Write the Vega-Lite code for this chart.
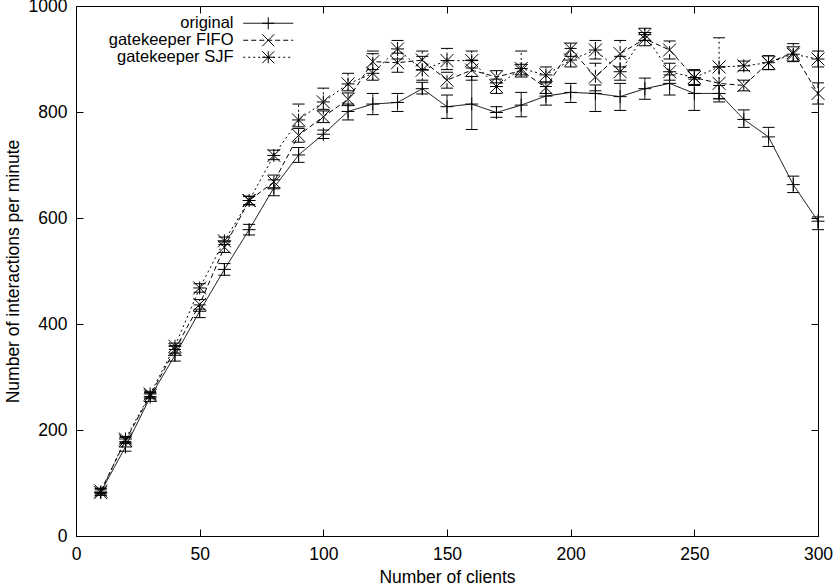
{
  "$schema": "https://vega.github.io/schema/vega-lite/v6.json",
  "width": 742,
  "height": 530,
  "autosize": {"type": "none"},
  "padding": {"left": 76, "top": 6, "right": 19, "bottom": 49},
  "background": "white",
  "data": {
    "values": [
      {"clients": 10, "series": "original", "y": 83, "lo": 77, "hi": 90},
      {"clients": 20, "series": "original", "y": 168, "lo": 160, "hi": 176},
      {"clients": 30, "series": "original", "y": 262, "lo": 254, "hi": 270},
      {"clients": 40, "series": "original", "y": 341, "lo": 330, "hi": 352},
      {"clients": 50, "series": "original", "y": 424, "lo": 412, "hi": 436},
      {"clients": 60, "series": "original", "y": 503, "lo": 492, "hi": 514},
      {"clients": 70, "series": "original", "y": 578, "lo": 568, "hi": 588},
      {"clients": 80, "series": "original", "y": 657, "lo": 642, "hi": 672},
      {"clients": 90, "series": "original", "y": 719, "lo": 705, "hi": 733},
      {"clients": 100, "series": "original", "y": 758, "lo": 750, "hi": 766},
      {"clients": 110, "series": "original", "y": 801, "lo": 785, "hi": 815},
      {"clients": 120, "series": "original", "y": 815, "lo": 795, "hi": 835},
      {"clients": 130, "series": "original", "y": 818, "lo": 801, "hi": 835},
      {"clients": 140, "series": "original", "y": 844, "lo": 834, "hi": 856},
      {"clients": 150, "series": "original", "y": 810, "lo": 788, "hi": 832},
      {"clients": 160, "series": "original", "y": 815, "lo": 767, "hi": 867},
      {"clients": 170, "series": "original", "y": 799, "lo": 790, "hi": 810},
      {"clients": 180, "series": "original", "y": 813, "lo": 791, "hi": 837},
      {"clients": 190, "series": "original", "y": 830, "lo": 813, "hi": 848},
      {"clients": 200, "series": "original", "y": 837, "lo": 818, "hi": 854},
      {"clients": 210, "series": "original", "y": 835, "lo": 801, "hi": 851},
      {"clients": 220, "series": "original", "y": 829, "lo": 803, "hi": 854},
      {"clients": 230, "series": "original", "y": 844, "lo": 824, "hi": 864},
      {"clients": 240, "series": "original", "y": 854, "lo": 832, "hi": 870},
      {"clients": 250, "series": "original", "y": 835, "lo": 803, "hi": 862},
      {"clients": 260, "series": "original", "y": 835, "lo": 819, "hi": 850},
      {"clients": 270, "series": "original", "y": 786, "lo": 771, "hi": 804},
      {"clients": 280, "series": "original", "y": 753, "lo": 735, "hi": 771},
      {"clients": 290, "series": "original", "y": 663, "lo": 648, "hi": 679},
      {"clients": 300, "series": "original", "y": 594, "lo": 578, "hi": 602},
      {"clients": 10, "series": "gatekeeper FIFO", "y": 85, "lo": 80, "hi": 90},
      {"clients": 20, "series": "gatekeeper FIFO", "y": 180, "lo": 175, "hi": 186},
      {"clients": 30, "series": "gatekeeper FIFO", "y": 265, "lo": 259, "hi": 271},
      {"clients": 40, "series": "gatekeeper FIFO", "y": 352, "lo": 345, "hi": 359},
      {"clients": 50, "series": "gatekeeper FIFO", "y": 437, "lo": 428, "hi": 446},
      {"clients": 60, "series": "gatekeeper FIFO", "y": 545, "lo": 535, "hi": 555},
      {"clients": 70, "series": "gatekeeper FIFO", "y": 633, "lo": 625, "hi": 641},
      {"clients": 80, "series": "gatekeeper FIFO", "y": 668, "lo": 655, "hi": 681},
      {"clients": 90, "series": "gatekeeper FIFO", "y": 756, "lo": 743, "hi": 769},
      {"clients": 100, "series": "gatekeeper FIFO", "y": 791, "lo": 780, "hi": 802},
      {"clients": 110, "series": "gatekeeper FIFO", "y": 824, "lo": 812, "hi": 836},
      {"clients": 120, "series": "gatekeeper FIFO", "y": 895, "lo": 880, "hi": 910},
      {"clients": 130, "series": "gatekeeper FIFO", "y": 893, "lo": 875, "hi": 911},
      {"clients": 140, "series": "gatekeeper FIFO", "y": 898, "lo": 880, "hi": 915},
      {"clients": 150, "series": "gatekeeper FIFO", "y": 860, "lo": 845, "hi": 875},
      {"clients": 160, "series": "gatekeeper FIFO", "y": 879, "lo": 860, "hi": 898},
      {"clients": 170, "series": "gatekeeper FIFO", "y": 866, "lo": 855, "hi": 878},
      {"clients": 180, "series": "gatekeeper FIFO", "y": 878, "lo": 866, "hi": 890},
      {"clients": 190, "series": "gatekeeper FIFO", "y": 846, "lo": 835, "hi": 857},
      {"clients": 200, "series": "gatekeeper FIFO", "y": 919, "lo": 905, "hi": 930},
      {"clients": 210, "series": "gatekeeper FIFO", "y": 866, "lo": 840, "hi": 892},
      {"clients": 220, "series": "gatekeeper FIFO", "y": 910, "lo": 885, "hi": 935},
      {"clients": 230, "series": "gatekeeper FIFO", "y": 938, "lo": 925, "hi": 950},
      {"clients": 240, "series": "gatekeeper FIFO", "y": 917, "lo": 900, "hi": 934},
      {"clients": 250, "series": "gatekeeper FIFO", "y": 865, "lo": 852, "hi": 878},
      {"clients": 260, "series": "gatekeeper FIFO", "y": 854, "lo": 825, "hi": 885},
      {"clients": 270, "series": "gatekeeper FIFO", "y": 850, "lo": 840, "hi": 860},
      {"clients": 280, "series": "gatekeeper FIFO", "y": 893, "lo": 880, "hi": 906},
      {"clients": 290, "series": "gatekeeper FIFO", "y": 912, "lo": 895, "hi": 929},
      {"clients": 300, "series": "gatekeeper FIFO", "y": 835, "lo": 815, "hi": 855},
      {"clients": 10, "series": "gatekeeper SJF", "y": 82, "lo": 77, "hi": 87},
      {"clients": 20, "series": "gatekeeper SJF", "y": 183, "lo": 178, "hi": 188},
      {"clients": 30, "series": "gatekeeper SJF", "y": 268, "lo": 263, "hi": 273},
      {"clients": 40, "series": "gatekeeper SJF", "y": 358, "lo": 352, "hi": 364},
      {"clients": 50, "series": "gatekeeper SJF", "y": 468, "lo": 460, "hi": 476},
      {"clients": 60, "series": "gatekeeper SJF", "y": 557, "lo": 550, "hi": 564},
      {"clients": 70, "series": "gatekeeper SJF", "y": 633, "lo": 625, "hi": 641},
      {"clients": 80, "series": "gatekeeper SJF", "y": 718, "lo": 710, "hi": 728},
      {"clients": 90, "series": "gatekeeper SJF", "y": 785, "lo": 772, "hi": 815},
      {"clients": 100, "series": "gatekeeper SJF", "y": 819, "lo": 805, "hi": 845},
      {"clients": 110, "series": "gatekeeper SJF", "y": 853, "lo": 840, "hi": 873},
      {"clients": 120, "series": "gatekeeper SJF", "y": 873, "lo": 860, "hi": 915},
      {"clients": 130, "series": "gatekeeper SJF", "y": 919, "lo": 900, "hi": 935},
      {"clients": 140, "series": "gatekeeper SJF", "y": 879, "lo": 860, "hi": 905},
      {"clients": 150, "series": "gatekeeper SJF", "y": 897, "lo": 880, "hi": 920},
      {"clients": 160, "series": "gatekeeper SJF", "y": 897, "lo": 883, "hi": 915},
      {"clients": 170, "series": "gatekeeper SJF", "y": 848, "lo": 835, "hi": 862},
      {"clients": 180, "series": "gatekeeper SJF", "y": 882, "lo": 870, "hi": 915},
      {"clients": 190, "series": "gatekeeper SJF", "y": 870, "lo": 855, "hi": 885},
      {"clients": 200, "series": "gatekeeper SJF", "y": 898, "lo": 885, "hi": 920},
      {"clients": 210, "series": "gatekeeper SJF", "y": 917, "lo": 900, "hi": 935},
      {"clients": 220, "series": "gatekeeper SJF", "y": 876, "lo": 860, "hi": 905},
      {"clients": 230, "series": "gatekeeper SJF", "y": 946, "lo": 935, "hi": 958},
      {"clients": 240, "series": "gatekeeper SJF", "y": 876, "lo": 860, "hi": 892},
      {"clients": 250, "series": "gatekeeper SJF", "y": 865, "lo": 850, "hi": 880},
      {"clients": 260, "series": "gatekeeper SJF", "y": 885, "lo": 825, "hi": 940},
      {"clients": 270, "series": "gatekeeper SJF", "y": 887, "lo": 878, "hi": 896},
      {"clients": 280, "series": "gatekeeper SJF", "y": 893, "lo": 880, "hi": 906},
      {"clients": 290, "series": "gatekeeper SJF", "y": 909, "lo": 896, "hi": 923},
      {"clients": 300, "series": "gatekeeper SJF", "y": 900, "lo": 885, "hi": 915}
    ]
  },
  "layer": [
    {
      "layer": [
        {
          "mark": {"type": "rule", "color": "black", "strokeWidth": 1},
          "encoding": {
            "x": {"field": "clients", "type": "quantitative", "scale": {"domain": [0, 300], "nice": false},
                  "axis": {"values": [0, 50, 100, 150, 200, 250, 300], "format": "d", "title": "Number of clients",
                           "titleY": 41, "titleBaseline": "middle"}},
            "y": {"field": "lo", "type": "quantitative", "scale": {"domain": [0, 1000], "nice": false},
                  "axis": {"values": [0, 200, 400, 600, 800, 1000], "format": "d", "title": "Number of interactions per minute",
                           "titleX": -63, "titleBaseline": "middle"}},
            "y2": {"field": "hi"},
            "strokeDash": {
              "field": "series", "type": "nominal",
              "scale": {"domain": ["original", "gatekeeper FIFO", "gatekeeper SJF"], "range": [[1, 0], [5, 3], [2, 3]]},
              "legend": {
                "orient": "none", "legendX": 145, "legendY": 9, "title": null, "padding": 0,
                "symbolType": "M-4.17,0L4.17,0", "symbolSize": 144, "symbolStrokeColor": "black", "symbolStrokeWidth": 1,
                "labelAlign": "right", "labelOffset": -43, "symbolOffset": 39, "rowPadding": -1
              }
            }
          }
        },
        {
          "mark": {"type": "point", "shape": "M-1,0L1,0", "size": 144, "filled": false, "color": "black", "strokeWidth": 1, "opacity": 1},
          "encoding": {
            "x": {"field": "clients", "type": "quantitative"},
            "y": {"field": "lo", "type": "quantitative"}
          }
        },
        {
          "mark": {"type": "point", "shape": "M-1,0L1,0", "size": 144, "filled": false, "color": "black", "strokeWidth": 1, "opacity": 1},
          "encoding": {
            "x": {"field": "clients", "type": "quantitative"},
            "y": {"field": "hi", "type": "quantitative"}
          }
        },
        {
          "mark": {"type": "line", "color": "black", "strokeWidth": 1},
          "encoding": {
            "x": {"field": "clients", "type": "quantitative"},
            "y": {"field": "y", "type": "quantitative"},
            "strokeDash": {"field": "series", "type": "nominal"}
          }
        },
        {
          "mark": {"type": "point", "filled": false, "color": "black", "strokeWidth": 1, "size": 169, "opacity": 1},
          "encoding": {
            "x": {"field": "clients", "type": "quantitative"},
            "y": {"field": "y", "type": "quantitative"},
            "shape": {
              "field": "series", "type": "nominal",
              "sort": ["original", "gatekeeper FIFO", "gatekeeper SJF"],
              "scale": {"range": ["M0,-1L0,1M-1,0L1,0", "M-1,-1L1,1M-1,1L1,-1", "M-1,-1L1,1M-1,1L1,-1M0,-1L0,1M-1,0L1,0"]},
              "legend": {
                "orient": "none", "legendX": 145, "legendY": 9, "title": null, "padding": 0,
                "symbolSize": 144, "symbolStrokeColor": "black", "symbolStrokeWidth": 1, "symbolFillColor": "transparent",
                "labelAlign": "right", "labelOffset": -43, "symbolOffset": 39, "rowPadding": -1, "labelExpr": "' '"
              }
            }
          }
        }
      ]
    },
    {
      "mark": {"type": "point", "opacity": 0},
      "encoding": {
        "x": {"field": "clients", "type": "quantitative",
              "axis": {"orient": "top", "values": [0, 50, 100, 150, 200, 250, 300], "labels": false, "title": null}},
        "y": {"field": "y", "type": "quantitative",
              "axis": {"orient": "right", "values": [0, 200, 400, 600, 800, 1000], "labels": false, "title": null}}
      }
    }
  ],
  "resolve": {"axis": {"x": "independent", "y": "independent"}},
  "config": {
    "view": {"stroke": "black", "strokeWidth": 1},
    "axis": {
      "labelFont": "Liberation Sans", "titleFont": "Liberation Sans",
      "labelFontSize": 17.5, "titleFontSize": 17.5, "titleFontWeight": "normal",
      "labelColor": "black", "titleColor": "black", "tickColor": "black",
      "domain": false, "grid": false, "tickSize": -7, "labelPadding": 16, "labelFlush": false, "labelOverlap": false
    },
    "legend": {"labelFont": "Liberation Sans", "labelFontSize": 16.5, "labelColor": "black"}
  }
}
